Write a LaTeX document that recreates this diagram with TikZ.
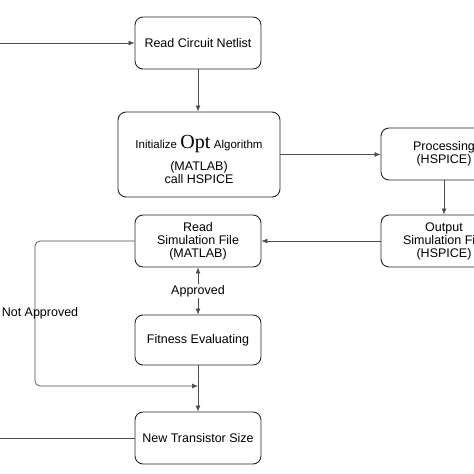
\documentclass[tikz,border=0pt]{standalone}
\usepackage{fontspec}
\setmainfont{Liberation Sans}
\newfontfamily\optfont{Liberation Serif}
\usetikzlibrary{arrows.meta}

\begin{document}
\begin{tikzpicture}[x=1pt, y=-1pt,
	stepbox/.style={draw=black!85, line width=0.9pt, rounded corners=8pt,
		minimum width=126pt, minimum height=52pt, align=center, inner sep=2pt,
		font=\fontsize{12.5}{13}\selectfont},
	flow/.style={draw=black!70, line width=0.7pt},
	tip/.style={-{Latex[length=6pt, width=5pt]}},
	tips/.style={{Latex[length=6pt, width=5pt]}-{Latex[length=6pt, width=5pt]}},
	tag/.style={font=\fontsize{12.5}{13}\selectfont, inner sep=1pt}]
	\def \colx {198}
	\def \sidex {444}

	\useasboundingbox (0,0) rectangle (474,474);
	\clip (0,0) rectangle (474,474);

	\node[stepbox] (netlist) at (\colx,43) {Read Circuit Netlist};
	\node[stepbox, minimum width=162pt, minimum height=85pt] (init) at (199,154.5)
		{\rule{0pt}{23pt}{\fontsize{11.5}{13}\selectfont Initialize}
		 {\optfont\fontsize{20}{20}\selectfont Opt}
		 {\fontsize{11.5}{13}\selectfont Algorithm}\\[7pt]
		 (MATLAB)\\call HSPICE};
	\node[stepbox] (process) at (\sidex,154) {Processing\\(HSPICE)};
	\node[stepbox] (output)  at (\sidex,241) {Output\\Simulation File\\(HSPICE)};
	\node[stepbox] (readsim) at (\colx,241) {Read\\Simulation File\\(MATLAB)};
	\node[stepbox, minimum height=50pt] (fitness) at (\colx,340) {Fitness Evaluating};
	\node[stepbox] (newsize) at (\colx,438) {New Transistor Size};

	\coordinate (entry)    at (-5,43);
	\coordinate (exit)     at (-5,438);
	\coordinate (merge)    at (\colx,386);
	\coordinate (loopleft) at (35,386);

	\draw[flow, tip] (entry) -- (netlist);
	\draw[flow, tip] (netlist.south) -- (netlist.south |- init.north);
	\draw[flow, tip] (init.east) -- (init.east -| process.west);
	\draw[flow, tip] (process) -- (output);
	\draw[flow, tip] (output) -- (readsim);
	\draw[flow, tips] (readsim) -- node[tag, fill=white] (approved) {Approved} (fitness);
	\draw[flow, tip, rounded corners=5pt] (readsim.west) -| (loopleft) -- (merge);
	\node[tag] (notapproved) at (40,313) {Not Approved};
	\draw[flow, tip] (fitness) -- (newsize);
	\draw[flow] (newsize) -- (exit);
\end{tikzpicture}
\end{document}
